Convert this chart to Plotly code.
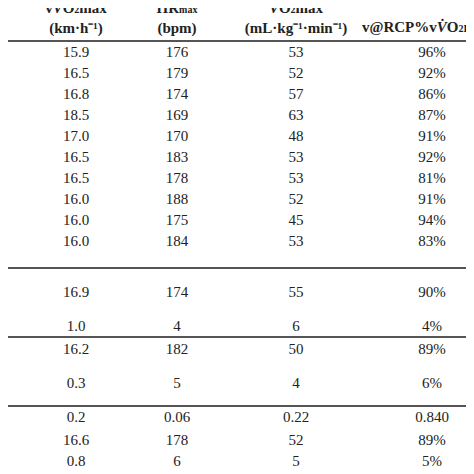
import plotly.graph_objects as go

# column values (rows of the table)
v_vo2max = ["15.9", "16.5", "16.8", "18.5", "17.0", "16.5", "16.5", "16.0", "16.0", "16.0",
            "16.9", "1.0", "16.2", "0.3", "0.2", "16.6", "0.8"]
hr_max = ["176", "179", "174", "169", "170", "183", "178", "188", "175", "184",
          "174", "4", "182", "5", "0.06", "178", "6"]
vo2max = ["53", "52", "57", "63", "48", "53", "53", "52", "45", "53",
          "55", "6", "50", "4", "0.22", "52", "5"]
rcp_pct = ["96%", "92%", "86%", "87%", "91%", "92%", "81%", "91%", "94%", "83%",
           "90%", "4%", "89%", "6%", "0.840", "89%", "5%"]

row_y = [53, 74, 95, 116, 137, 158, 179, 200, 221, 242, 293, 327, 350, 384, 418, 441, 462]
col_x = [76, 177, 296, 432]
rule_y = [41, 268, 337, 406]

FONT = "Liberation Serif"
sm = "<span style='font-size:10px'>{}</span>"

fig = go.Figure()

for x, col in zip(col_x, [v_vo2max, hr_max, vo2max, rcp_pct]):
    fig.add_trace(go.Scatter(x=[x] * len(col), y=row_y, text=col, mode="text",
                             textfont=dict(family=FONT, size=15, color="#222"),
                             hoverinfo="skip", cliponaxis=True))

head1 = ["<b>v<i>V</i>O" + sm.format("2") + "max</b>", "<b>HR" + sm.format("max") + "</b>",
         "<b><i>V</i>O" + sm.format("2") + "max</b>"]
head2 = ["<b>(km·h⁻¹)</b>", "<b>(bpm)</b>", "<b>(mL·kg⁻¹·min⁻¹)</b>"]
fig.add_trace(go.Scatter(x=col_x[:3], y=[9] * 3, text=head1, mode="text",
                         textfont=dict(family=FONT, size=15, color="#222"), hoverinfo="skip"))
fig.add_trace(go.Scatter(x=col_x[:3], y=[29] * 3, text=head2, mode="text",
                         textfont=dict(family=FONT, size=15, color="#222"), hoverinfo="skip"))
fig.add_trace(go.Scatter(x=[362], y=[28], text=["<b>v@RCP%v<i>V̇</i>O" + sm.format("2") + "max</b>"],
                         mode="text", textposition="middle right",
                         textfont=dict(family=FONT, size=15, color="#222"),
                         hoverinfo="skip", cliponaxis=True))

for y in rule_y:
    fig.add_shape(type="line", x0=0, x1=490, y0=y, y1=y, layer="above",
                  line=dict(color="#555", width=1.8))

# the page body has an 8px margin, so the ranges are shifted to line up with the window
fig.update_xaxes(range=[8, 482], visible=False, fixedrange=True)
fig.update_yaxes(range=[482, 8], visible=False, fixedrange=True)
fig.update_layout(width=474, height=474, margin=dict(l=0, r=0, t=0, b=0),
                  plot_bgcolor="white", paper_bgcolor="white", showlegend=False)

fig.write_html("out.html")
